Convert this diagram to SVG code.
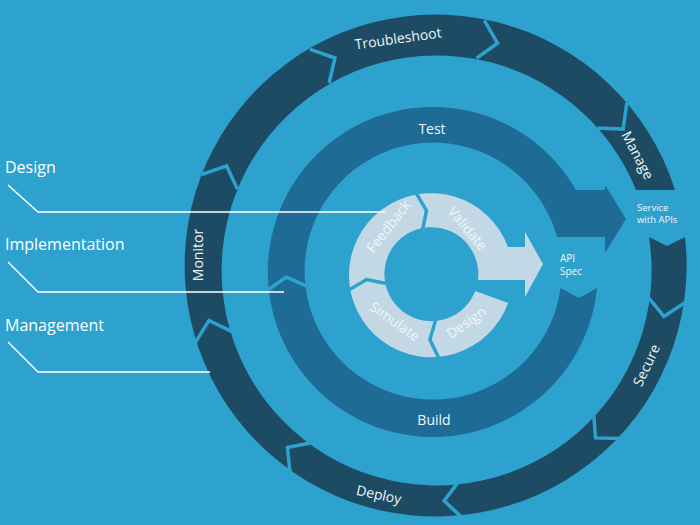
<svg xmlns="http://www.w3.org/2000/svg" width="700" height="525" viewBox="0 0 700 525">
<style>
.t{font-family:"Open Sans","DejaVu Sans",sans-serif;fill:#f2f6f8;text-anchor:middle;dominant-baseline:central}
.j{fill:none;stroke:#2ea2cf;stroke-width:3.5;stroke-linejoin:miter;stroke-linecap:square}
.lead{fill:none;stroke:#ffffff;stroke-width:1.5}
.side{font-family:"Open Sans","DejaVu Sans",sans-serif;fill:#ffffff;font-size:16px}
</style>
<rect width="700" height="525" fill="#2ea2cf"/>
<g id="outer-ring">
<path d="M685,237 A251 251 0 1 1 675,190 L636,190 A215 215 0 1 0 649,237 L667,246 Z" fill="#1d4b63"/>
<polyline class="j" points="485.2,21.8 497.5,43.2 478.1,57.1"/>
<polyline class="j" points="311.6,50 335,58 329.5,81.3"/>
<polyline class="j" points="203.3,174 226.6,165.9 236.7,187.5"/>
<polyline class="j" points="196,341.4 209,320.4 230.4,330.9"/>
<polyline class="j" points="289.9,472.1 287.5,447.5 310.9,442.8"/>
<polyline class="j" points="462.2,517.6 444.1,500.9 458.5,481.8"/>
<polyline class="j" points="620.2,438.5 595.5,437.9 593.7,414.1"/>
<polyline class="j" points="684.6,302.9 663.9,316.4 648.9,297.9"/>
<polyline class="j" points="626.6,104.6 623.1,129.1 599.2,128.1"/>
<text class="t" font-size="14" transform="translate(398,38) rotate(-8)">Troubleshoot</text>
<text class="t" font-size="14" transform="translate(638,155) rotate(62)">Manage</text>
<text class="t" font-size="14" transform="translate(197,255) rotate(-90)">Monitor</text>
<text class="t" font-size="14" transform="translate(646,365) rotate(-65)">Secure</text>
<text class="t" font-size="14" transform="translate(379,494) rotate(12)">Deploy</text>
</g>
<g id="middle-ring">
<path d="M597,288 A165 165 0 1 1 576,190 L605,190 L605,185 L626,219 L605,253 L605,237 L557,237 A128.5 128.5 0 1 0 560.5,288 L579,298 Z" fill="#1e6b96"/>
<polyline class="j" points="268.9,289.2 286.3,277.1 305.2,285.4"/>
<text class="t" font-size="14" x="432" y="128">Test</text>
<text class="t" font-size="14" x="434" y="419">Build</text>
</g>
<g id="inner-ring">
<path d="M508.1,303 A82 82 0 1 1 508,247 L525,247 L525,232 L543,264 L525,297 L525,280 L478,280 A47 47 0 1 0 475.2,291.1 Z" fill="#c2d9e5"/>
<polyline class="j" points="438.1,356.7 429.9,339.5 435.1,321.8"/>
<polyline class="j" points="350.2,289.2 366.7,279.5 384.7,283.2"/>
<polyline class="j" points="416.8,194.2 426.5,210.7 422.8,228.7"/>
<text class="t" font-size="14" transform="translate(388,226) rotate(-52)">Feedback</text>
<text class="t" font-size="14" transform="translate(468,228) rotate(50)">Validate</text>
<text class="t" font-size="14" transform="translate(395,321) rotate(35)">Simulate</text>
<text class="t" font-size="14" transform="translate(466,322) rotate(-35)">Design</text>
</g>
<g id="api-spec">
<text class="t" font-size="10" style="text-anchor:start" x="560" y="258">API</text>
<text class="t" font-size="10" style="text-anchor:start" x="560" y="271">Spec</text>
</g>
<g id="service">
<text class="t" font-size="9.5" style="text-anchor:start" x="637" y="207">Service</text>
<text class="t" font-size="9.5" style="text-anchor:start" x="637" y="219">with APIs</text>
</g>
<g id="connectors">
<polyline class="lead" points="8,185 38,212 385,212"/>
<polyline class="lead" points="8,262 38,292 284,292"/>
<polyline class="lead" points="8,342 38,372 210,372"/>
</g>
<g id="labels">
<text class="side" x="5" y="173">Design</text>
<text class="side" x="5" y="250">Implementation</text>
<text class="side" x="5" y="331">Management</text>
</g>
</svg>
